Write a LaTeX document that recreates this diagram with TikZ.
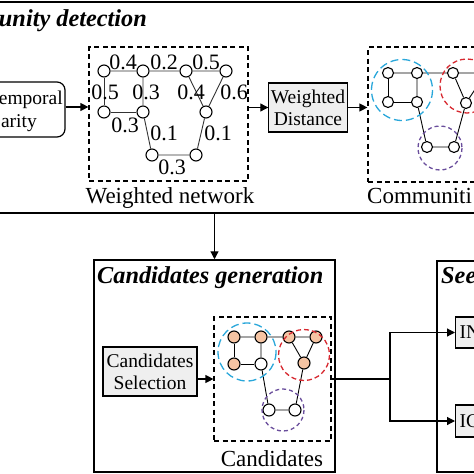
\documentclass[tikz,border=0pt]{standalone}
\usepackage{fontspec}
\setmainfont{Liberation Serif}
\usetikzlibrary{arrows.meta}

\definecolor{peach}{HTML}{F5C4A3}
\definecolor{boxgray}{HTML}{EFEFEF}
\definecolor{commblue}{HTML}{2AA7DA}
\definecolor{commred}{HTML}{D7282F}
\definecolor{commpurple}{HTML}{6A4E9C}

\tikzset{
  vtx/.style={circle,draw,line width=1.1pt,fill=white,inner sep=0pt,minimum size=12pt},
  svtx/.style={vtx,minimum size=11pt},
  cvtx/.style={vtx,fill=peach},
  wt/.style={inner sep=0pt,font=\fontsize{22}{22}\selectfont},
  lbl/.style={inner sep=0pt,font=\fontsize{23}{23}\selectfont},
  ttl/.style={inner sep=0pt,font=\fontsize{24.3}{24}\selectfont\bfseries\itshape},
  procbox/.style={draw,line width=1.2pt,fill=boxgray,inner sep=2pt,align=center,
    font=\fontsize{19.5}{22}\selectfont},
  dbox/.style={draw,line width=1.2pt,dash pattern=on 5pt off 3.5pt,inner sep=0pt},
  stage/.style={draw,line width=1.5pt,inner sep=0pt},
  comm/.style={line width=1.3pt,dash pattern=on 5pt off 3pt},
  arr/.style={line width=1.2pt,-{Triangle[length=8pt,width=8pt]}},
}

\begin{document}
\begin{tikzpicture}[x=1pt,y=-1pt]
 \useasboundingbox (0,0) rectangle (474,474);
 \clip (0,0) rectangle (474,474);

% Community detection stage (runs past the crop)
 \node[stage,line width=2pt,minimum width=500pt,minimum height=211pt] (topbox) at (237,107.5) {};
 \node[ttl,anchor=base east] (toptitle) at (147,26) {unity detection};

 \node[draw,line width=1.2pt,rounded corners=8pt,minimum width=105pt,minimum height=55pt] (tsim) at (12.5,109.5) {};
 \node[inner sep=0pt,anchor=base east,font=\fontsize{19.5}{22}\selectfont] (tsimA) at (63,104) {emporal};
 \node[inner sep=0pt,anchor=base east,font=\fontsize{19.5}{22}\selectfont] (tsimB) at (37,127) {arity};

% Weighted network
 \node[dbox,minimum width=159pt,minimum height=134pt] (wnet) at (168.5,114) {};
 \node[lbl,anchor=base] (wnetlbl) at (170,203) {Weighted network};
 \node[vtx] (n1) at (104,71) {};
 \node[vtx] (n2) at (143,71) {};
 \node[vtx] (n3) at (186,71) {};
 \node[vtx] (n4) at (226,71) {};
 \node[vtx] (n5) at (104,112) {};
 \node[vtx] (n6) at (143,112) {};
 \node[vtx] (n7) at (206,112) {};
 \node[vtx] (n8) at (152,155) {};
 \node[vtx] (n9) at (196,155) {};
 \draw[line width=0.9pt,black!80] (n1) -- (n2) -- (n3) -- (n4) -- (n7) -- (n9) -- (n8) -- (n6) -- (n2);
 \draw[line width=0.9pt,black!80] (n1) -- (n5) -- (n6);
 \draw[line width=0.9pt,black!80] (n3) -- (n7);
 \node[wt] (w12) at (123,62) {0.4};
 \node[wt] (w23) at (164,62) {0.2};
 \node[wt] (w34) at (206,62) {0.5};
 \node[wt] (w15) at (105,92) {0.5};
 \node[wt] (w26) at (146,92) {0.3};
 \node[wt] (w37) at (191,92) {0.4};
 \node[wt] (w47) at (234,92) {0.6};
 \node[wt] (w56) at (125,125) {0.3};
 \node[wt] (w68) at (164,133) {0.1};
 \node[wt] (w79) at (218,133) {0.1};
 \node[wt] (w89) at (172,167) {0.3};

 \node[procbox,minimum width=78pt,minimum height=49pt] (wdist) at (308,107.5) {Weighted\\Distance};

% Communities
 \node[dbox,minimum width=152pt,minimum height=135pt] (comm) at (444,114.5) {};
 \node[lbl,anchor=base west] (commlbl) at (367,203) {Communiti};
 \node[svtx] (c1) at (388,73) {};
 \node[svtx] (c2) at (417,73) {};
 \node[svtx] (c3) at (453,73) {};
 \node[svtx] (c4) at (486,73) {};
 \node[svtx] (c5) at (388,102) {};
 \node[svtx] (c6) at (417,102) {};
 \node[svtx] (c7) at (466,103) {};
 \node[svtx] (c8) at (427,147) {};
 \node[svtx] (c9) at (454,147) {};
 \draw[line width=0.9pt] (c1) -- (c2) -- (c3) -- (c4) -- (c7) -- (c9) -- (c8) -- (c6) -- (c2);
 \draw[line width=0.9pt] (c1) -- (c5) -- (c6);
 \draw[line width=0.9pt] (c3) -- (c7);
 \draw[comm,commblue,dash pattern=on 8pt off 4pt] (402,90) circle (30.5);
 \draw[comm,commred] (467,86) circle (27);
 \draw[comm,commpurple,dash pattern=on 4pt off 3pt] (440,148) circle (22);

 \draw[arr] (tsim.east |- 0,107) -- (wnet.west |- 0,107);
 \draw[arr] (wnet.east |- wdist) -- (wdist.west);
 \draw[arr] (wdist.east) -- (comm.west |- wdist);

% Candidates generation stage
 \node[stage,minimum width=241pt,minimum height=212pt] (cand) at (214.5,366) {};
 \node[ttl,anchor=base west] (candtitle) at (97,283) {Candidates generation};
 \draw[arr] (topbox.south -| cand.north) -- (cand.north);

 \node[procbox,minimum width=94pt,minimum height=49pt] (csel) at (150,371.5) {Candidates\\Selection};
 \node[dbox,minimum width=117pt,minimum height=124pt] (cdash) at (272.5,379) {};
 \node[lbl,anchor=base] (candlbl) at (272,466) {Candidates};
 \draw[arr] (csel.east |- cdash.west) -- (cdash.west);

 \node[cvtx] (k1) at (234,337) {};
 \node[cvtx] (k2) at (261,337) {};
 \node[cvtx] (k3) at (289,337) {};
 \node[cvtx] (k4) at (316,337) {};
 \node[cvtx] (k5) at (234,364) {};
 \node[vtx] (k6) at (261,364) {};
 \node[cvtx] (k7) at (304,363) {};
 \node[vtx] (k8) at (269,410) {};
 \node[vtx] (k9) at (295,410) {};
 \draw[line width=0.9pt] (k1) -- (k2) -- (k3) -- (k4) -- (k7) -- (k9) -- (k8) -- (k6) -- (k2);
 \draw[line width=0.9pt] (k1) -- (k5) -- (k6);
 \draw[line width=0.9pt] (k3) -- (k7);
 \draw[comm,commblue,dash pattern=on 8pt off 4pt] (247,352) circle (29);
 \draw[comm,commred] (304,355) circle (25.5);
 \draw[comm,commpurple,dash pattern=on 4pt off 3pt] (283,410) circle (21);

% Seed stage (runs past the crop)
 \node[stage,minimum width=83pt,minimum height=211pt] (seed) at (478.5,366.5) {};
 \node[ttl,anchor=base west] (seedtitle) at (441,283) {See};
 \node[procbox,anchor=west,minimum height=31pt,text width=50pt,align=left,inner xsep=4pt] (inbox) at (455,332.5) {IN};
 \node[procbox,anchor=west,minimum height=32pt,text width=50pt,align=left,inner xsep=4pt] (icbox) at (455,421) {IC};

 \coordinate (fork) at (390,379);
 \draw[line width=1.2pt] (cdash.east) -- (fork);
 \draw[arr] (fork) |- (inbox.west);
 \draw[arr] (fork) |- (icbox.west);

\end{tikzpicture}
\end{document}
